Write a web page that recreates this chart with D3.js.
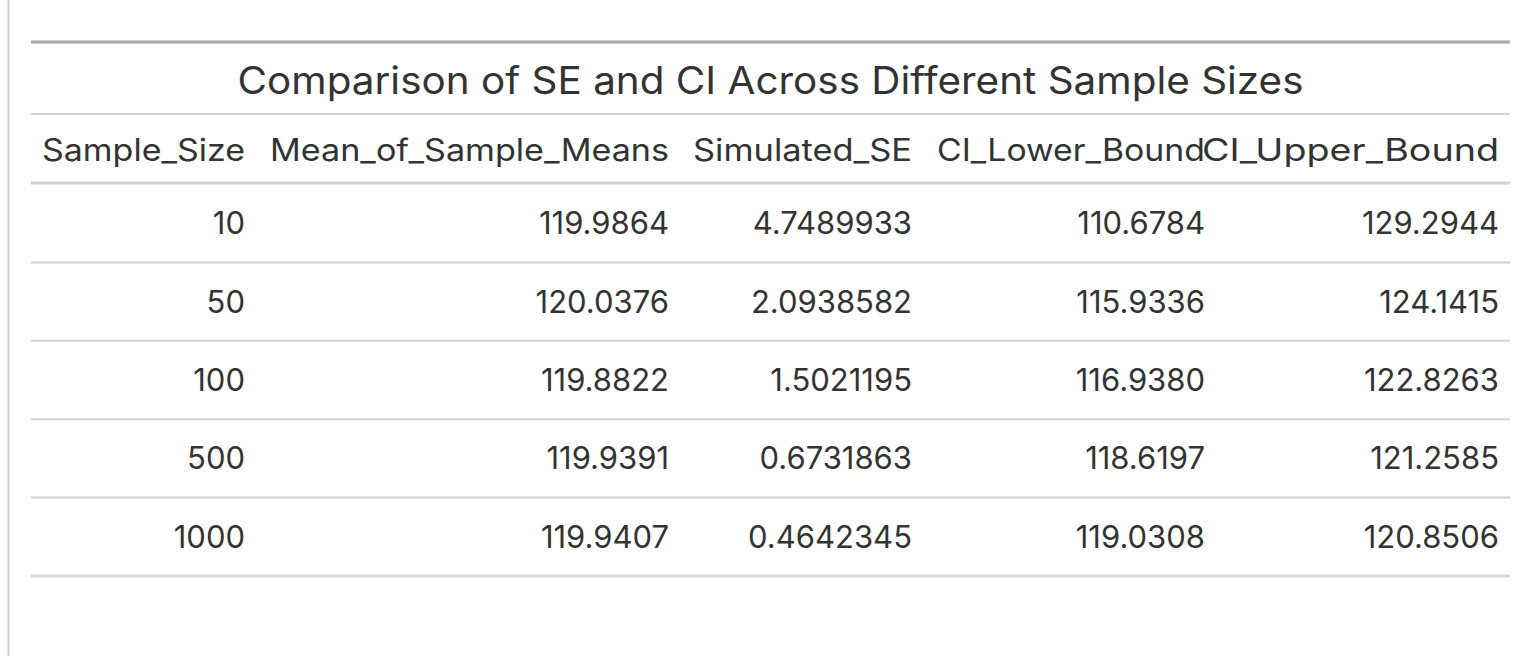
<!DOCTYPE html>
<html><head><meta charset="utf-8">
<script src="https://cdn.jsdelivr.net/npm/d3@7"></script>
<style>body{margin:0;background:#fff}</style>
</head><body><main></main>
<script>
const title = 'Comparison of SE and CI Across Different Sample Sizes'
const columns = ['Sample_Size', 'Mean_of_Sample_Means', 'Simulated_SE', 'CI_Lower_Bound', 'CI_Upper_Bound']
const sampleSize = ['10', '50', '100', '500', '1000']
const meanOfMeans = ['119.9864', '120.0376', '119.8822', '119.9391', '119.9407']
const simulatedSE = ['4.7489933', '2.0938582', '1.5021195', '0.6731863', '0.4642345']
const ciLower = ['110.6784', '115.9336', '116.9380', '118.6197', '119.0308']
const ciUpper = ['129.2944', '124.1415', '122.8263', '121.2585', '120.8506']

const width = 1538, height = 656
const left = 31, right = 1510
const colRight = [245, 669, 912, 1205, 1499]
const font = 'Inter, Roboto, "Liberation Sans", sans-serif'

const svg = d3.select('main').append('svg').attr('width', width).attr('height', height)
  .style('font-family', font)

// left frame line
svg.append('line').attr('x1', 8.5).attr('x2', 8.5).attr('y1', 0).attr('y2', height)
  .attr('stroke', '#d0d0d0').attr('stroke-width', 2)

const hline = (y, w, c) => svg.append('line').attr('x1', left).attr('x2', right)
  .attr('y1', y).attr('y2', y).attr('stroke', c).attr('stroke-width', w)

hline(42, 3, '#a8a8a8')
svg.append('text').text(title).attr('x', (left + right) / 2).attr('y', 94)
  .attr('text-anchor', 'middle').attr('font-size', 38).attr('fill', '#333')
  .attr('textLength', 1066).attr('lengthAdjust', 'spacingAndGlyphs')
hline(114, 2, '#d3d3d3')

const headerLen = [203, 399, 219, 268, 297]
columns.forEach((c, i) => svg.append('text').text(c).attr('x', colRight[i]).attr('y', 161)
  .attr('text-anchor', 'end').attr('font-size', 31).attr('fill', '#333')
  .attr('textLength', headerLen[i]).attr('lengthAdjust', 'spacingAndGlyphs'))
hline(183, 3, '#d3d3d3')

const rows = sampleSize.map((s, i) => [s, meanOfMeans[i], simulatedSE[i], ciLower[i], ciUpper[i]])
const y = d3.scaleBand().domain(d3.range(rows.length)).range([184, 576])

rows.forEach((r, i) => {
  r.forEach((v, j) => svg.append('text').text(v).attr('x', colRight[j])
    .attr('y', y(i) + y.bandwidth() / 2 + 11)
    .attr('text-anchor', 'end').attr('font-size', 31).attr('fill', '#333'))
  if (i < rows.length - 1) hline(y(i) + y.bandwidth(), 2, '#d3d3d3')
})
hline(576, 3, '#d3d3d3')
</script></body></html>
